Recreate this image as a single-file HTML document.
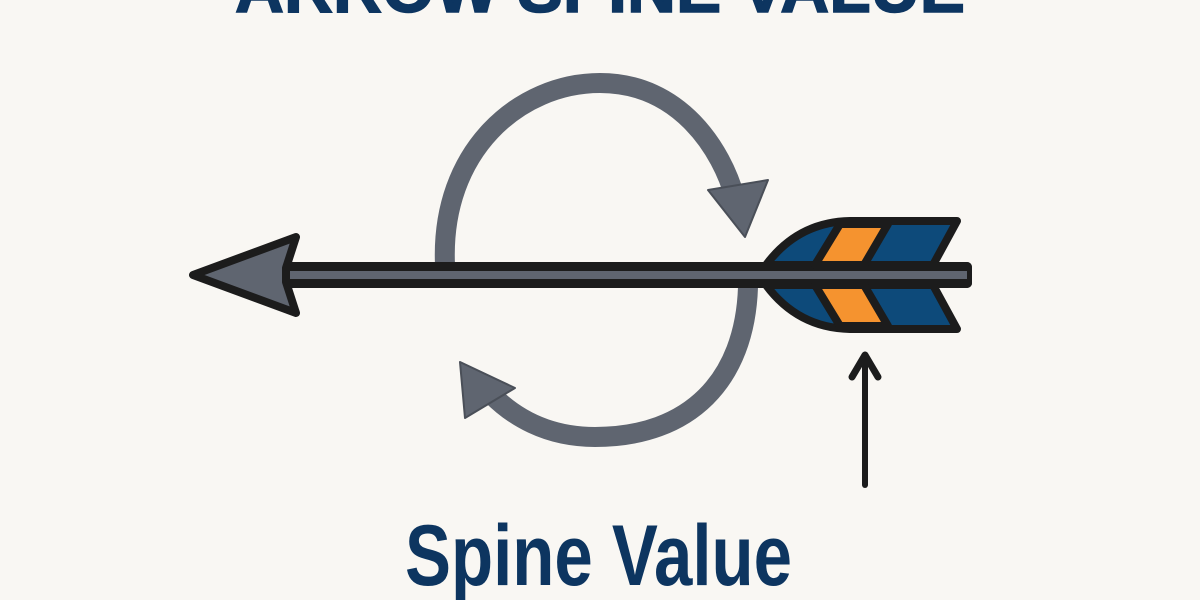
<!DOCTYPE html>
<html><head><meta charset="utf-8"><style>
html,body{margin:0;padding:0;background:#f9f7f3;}
svg{display:block}
</style></head><body>
<svg width="1200" height="600" viewBox="0 0 1200 600" xmlns="http://www.w3.org/2000/svg">
<rect width="1200" height="600" fill="#f9f7f3"/>
<text x="600" y="12" text-anchor="middle" font-family="Liberation Sans, sans-serif" font-weight="bold" font-size="68" fill="#0d3560" stroke="#0d3560" stroke-width="1.5" textLength="730" lengthAdjust="spacingAndGlyphs">ARROW SPINE VALUE</text>
<g fill="none" stroke="#5f6570" stroke-width="20">
<path d="M 445 265 C 440 150, 520 83, 600 83 C 680 83, 722 150, 735 198"/>
<path d="M 748 287 C 745 380, 690 437, 595 437 C 545 437, 512 415, 492 395"/>
</g>
<polygon points="708,190 768,180 745,237" fill="#5f6570" stroke="#4a4f58" stroke-width="2" stroke-linejoin="round"/>
<polygon points="460,362 515,388 465,418" fill="#5f6570" stroke="#4a4f58" stroke-width="2" stroke-linejoin="round"/>
<rect x="280" y="262" width="692" height="26" rx="5" fill="#1c1c1c"/>
<rect x="285" y="271" width="682" height="8" fill="#5f6570"/>
<polygon points="193,275 296,237 286,268 286,282 296,313" fill="#5f6570" stroke="#1c1c1c" stroke-width="8" stroke-linejoin="round"/>
<g stroke="#1c1c1c" stroke-width="8" stroke-linejoin="round">
<path d="M 766 265 Q 798 222 850 221 L 957 221 L 933 265 Z" fill="#0d4a7a"/>
<path d="M 766 285 Q 798 328 850 329 L 957 329 L 933 285 Z" fill="#0d4a7a"/>
<polygon points="840,224 888,224 864,265 815,265" fill="#f5932f"/>
<polygon points="815,285 864,285 888,326 840,326" fill="#f5932f"/>
</g>
<rect x="930" y="262" width="42" height="26" rx="5" fill="#1c1c1c"/>
<rect x="768" y="271" width="199" height="8" fill="#5f6570"/>
<line x1="865" y1="485" x2="865" y2="360" stroke="#1c1c1c" stroke-width="6" stroke-linecap="round"/>
<polyline points="852,377 865,355 878,377" fill="none" stroke="#1c1c1c" stroke-width="7" stroke-linecap="round" stroke-linejoin="round"/>
<text x="405" y="585" font-family="Liberation Sans, sans-serif" font-weight="bold" font-size="86" fill="#0d3560" textLength="387" lengthAdjust="spacingAndGlyphs">Spine Value</text>
</svg>
</body></html>
